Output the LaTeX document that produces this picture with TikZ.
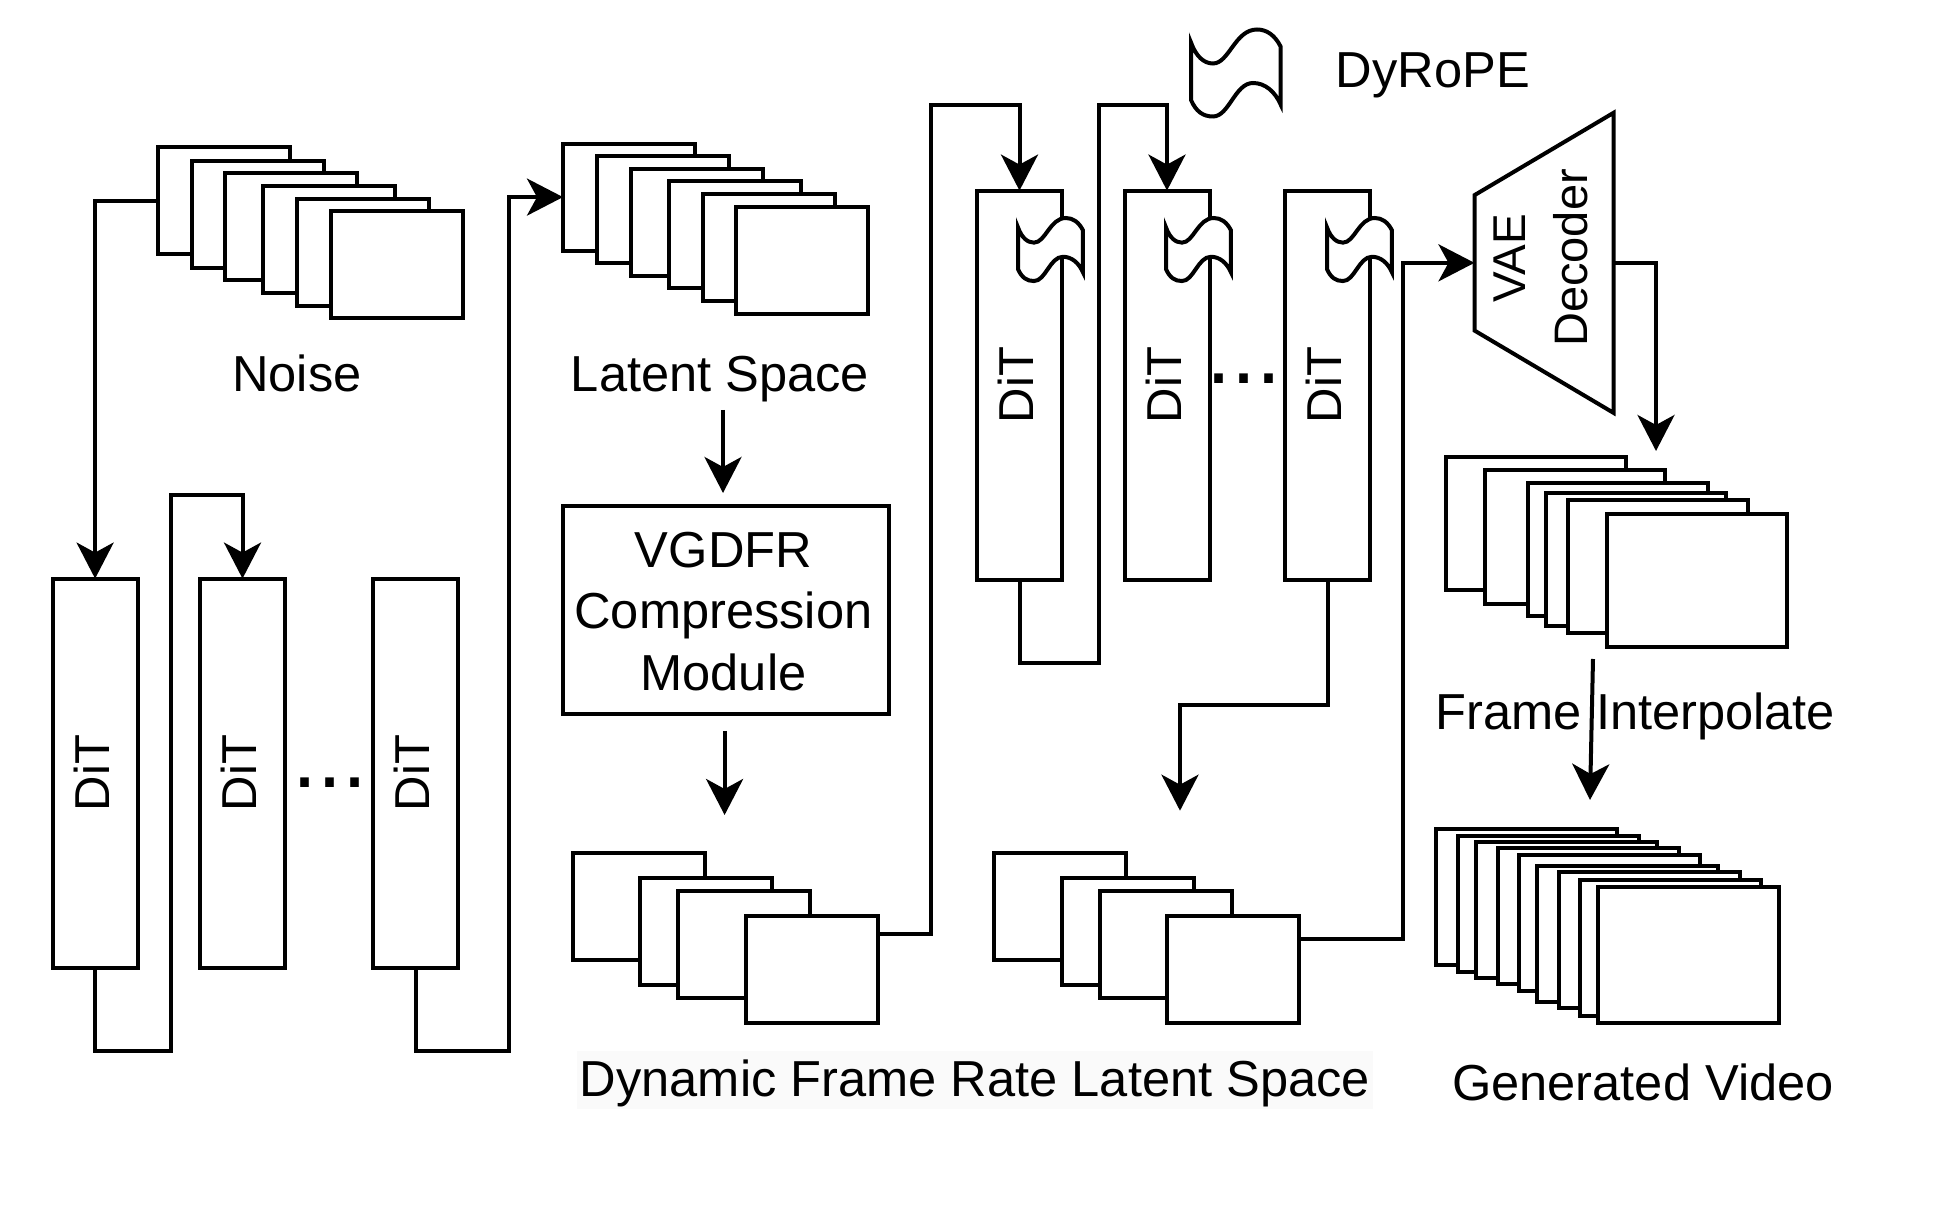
\documentclass[tikz,border=0pt]{standalone}
\usepackage{fontspec}
\setmainfont{Liberation Sans}
\usetikzlibrary{arrows.meta,shapes.geometric}

\tikzset{
	frame/.style={draw,fill=white,line width=2pt,inner sep=0pt,outer sep=0pt,anchor=north west},
	word/.style={font=\fontsize{25.3}{31}\selectfont,inner sep=0pt,anchor=base},
	upword/.style={font=\fontsize{24.5}{30}\selectfont,inner sep=0pt,anchor=base,rotate=90},
	wavetag/.pic={
		\draw[line width=2pt,fill=white] (0,13) .. controls (5,27) and (13,34) .. (22,34)
			.. controls (38,34) and (44,0) .. (66,0)
			.. controls (76,0) and (84,6) .. (89.6,17) -- (89.6,75)
			.. controls (84,62) and (74,53.5) .. (62,53.5)
			.. controls (44,53.5) and (38,87) .. (22,87)
			.. controls (12,87) and (5,82) .. (0,70.5) -- cycle;
	}
}

\begin{document}
\begin{tikzpicture}[x=0.5pt,y=-0.5pt]
	\useasboundingbox (0,0) rectangle (1940,1224);

	\begin{scope}[every node/.style={frame,minimum width=66pt,minimum height=53.5pt}]
		\node (n1) at (158,147.5) {};
		\node (n2) at (192,161) {};
		\node (n3) at (225,173) {};
		\node (n4) at (263,186) {};
		\node (n5) at (297,198.6) {};
		\node (n6) at (331,211.4) {};
		\node (l1) at (563,143.6) {};
		\node (l2) at (597,156.4) {};
		\node (l3) at (631,169) {};
		\node (l4) at (669,181.4) {};
		\node (l5) at (703,194.3) {};
		\node (l6) at (736,207) {};
		\node (d1) at (573,852.7) {};
		\node (d2) at (640,878) {};
		\node (d3) at (678,891) {};
		\node (d4) at (746,916) {};
		\node (r1) at (994,852.7) {};
		\node (r2) at (1061.6,878) {};
		\node (r3) at (1100,891) {};
		\node (r4) at (1167,916) {};
	\end{scope}

	\begin{scope}[every node/.style={frame,minimum width=90pt,minimum height=66.7pt}]
		\node (i1) at (1445.6,456.7) {};
		\node (i2) at (1485,470.5) {};
		\node (i3) at (1528,483) {};
		\node (i4) at (1545.6,493) {};
		\node (i5) at (1567.5,500) {};
		\node (i6) at (1607,514) {};
	\end{scope}

	\begin{scope}[every node/.style={frame,minimum width=90.5pt,minimum height=68pt}]
		\node (v1) at (1436,828.8) {};
		\node (v2) at (1457.5,835.7) {};
		\node (v3) at (1475.6,842.3) {};
		\node (v4) at (1497.5,848.4) {};
		\node (v5) at (1519.4,855.4) {};
		\node (v6) at (1537,865.8) {};
		\node (v7) at (1559,872.3) {};
		\node (v8) at (1580,880) {};
		\node (v9) at (1598,886.6) {};
	\end{scope}

	\begin{scope}[every node/.style={frame,minimum width=42.5pt,minimum height=194.7pt}]
		\node (dit1) at (52.6,578.6) {};
		\node (dit2) at (200,578.6) {};
		\node (dit3) at (373,578.6) {};
		\node (dit4) at (977,190.6) {};
		\node (dit5) at (1124.5,190.6) {};
		\node (dit6) at (1285,190.6) {};
	\end{scope}

	\node[frame,minimum width=163pt,minimum height=104pt] (vgdfr) at (563,506) {};
	\node[draw,fill=white,line width=2pt,inner sep=1pt,outer sep=0pt,trapezium,rotate=90,trapezium left angle=58.7,trapezium right angle=58.7,trapezium stretches=true,minimum width=150pt,minimum height=69.5pt] (vae) at (1544,262.85) {};

	\pic (tag0) at (1191,29.5) {wavetag};
	\pic[scale=0.725] (tag1) at (1018,218) {wavetag};
	\pic[scale=0.725] (tag2) at (1166,218) {wavetag};
	\pic[scale=0.725] (tag3) at (1327,218) {wavetag};

	\node[word,anchor=center,align=center,font=\fontsize{25.3}{30.8}\selectfont] (vgdfrword) at (723.5,611.5) {VGDFR\\Compression\\Module};
	\node[word] (noise) at (297,392) {Noise};
	\node[word] (latent) at (720,392) {Latent Space};
	\node[word,fill=black!2,inner xsep=1.5pt,text height=23pt,text depth=6pt] (dynamic) at (975,1096.5) {Dynamic Frame Rate Latent Space};
	\node[word] (generated) at (1643,1100.5) {Generated Video};
	\node[word] (interp) at (1635.5,729.5) {Frame Interpolate};
	\node[word] (dyrope) at (1433,87.5) {DyRoPE};

	\node[upword] (t1) at (109,773) {DiT};
	\node[upword] (t2) at (256,773) {DiT};
	\node[upword] (t3) at (429,773) {DiT};
	\node[upword] (t4) at (1033,385) {DiT};
	\node[upword] (t5) at (1181,385) {DiT};
	\node[upword] (t6) at (1341.5,385) {DiT};
	\node[upword,font=\fontsize{23}{28}\selectfont] (vaeword) at (1525,258) {VAE};
	\node[upword,font=\fontsize{23.5}{28}\selectfont] (decword) at (1587,258) {Decoder};

	\node[word,font=\fontsize{45}{50}\selectfont] (dots1) at (330,788) {...};
	\node[word,font=\fontsize{45}{50}\selectfont] (dots2) at (1244,383.5) {...};

	\coordinate (low1) at (171,1051.4);
	\coordinate (high1) at (171,494.6);
	\coordinate (low3) at (508.7,1051.4);
	\coordinate (high4) at (931,105.5);
	\coordinate (low4) at (1099,663);
	\coordinate (high5) at (1099,105.5);
	\coordinate (bend6) at (1180,705.5);
	\coordinate (end6) at (1180,810.7);
	\coordinate (side) at (1403,262.85);
	\coordinate (endvae) at (1656,451);
	\coordinate (a1) at (723,410);
	\coordinate (a2) at (723,493);
	\coordinate (a3) at (724.6,731);
	\coordinate (a4) at (724.6,815);
	\coordinate (a5) at (1593,659);
	\coordinate (a6) at (1590,800);

	\begin{scope}[>={Stealth[length=18pt,width=18.5pt,inset=5pt]},line width=2pt]
		\draw[->] (n1.west) -| (dit1.north);
		\draw[->] (dit1.south) |- (low1) -- (high1) -| (dit2.north);
		\draw[->] (dit3.south) |- (low3) |- (l1.west);
		\draw[->] (a1) -- (a2);
		\draw[->] (a3) -- (a4);
		\draw[->] ([yshift=18pt]d4.east) -| (high4) -| (dit4.north);
		\draw[->] (dit4.south) |- (low4) -- (high5) -| (dit5.north);
		\draw[->] (dit6.south) |- (bend6) -- (end6);
		\draw[->] ([yshift=15.5pt]r4.east) -| (side) -- (vae.north);
		\draw[->] (vae.south) -| (endvae);
		\draw[->] (a5) -- (a6);
	\end{scope}
\end{tikzpicture}
\end{document}
